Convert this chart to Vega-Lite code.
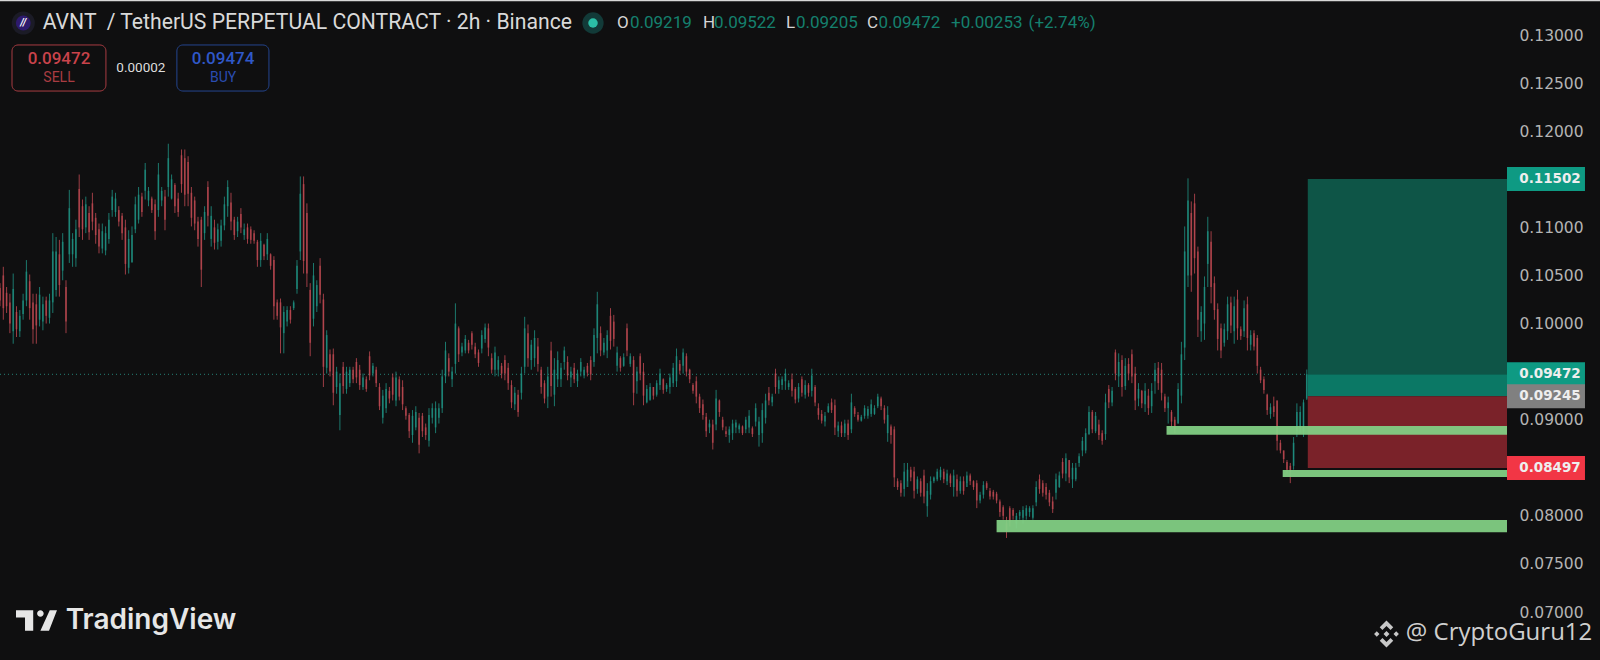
{"$schema":"https://vega.github.io/schema/vega-lite/v6.json","width":1507,"height":660,"autosize":{"type":"none"},"padding":{"left":0,"top":0,"right":93,"bottom":0},"background":"#0f0f10","config":{"view":{"stroke":null}},"resolve":{"scale":{"color":"independent","stroke":"independent"}},
"datasets":{"bars":[
{"t":0,"o":0.1037,"h":0.1042,"l":0.1018,"c":0.1024},{"t":1,"o":0.105,"h":0.1059,"l":0.1004,"c":0.1016},{"t":2,"o":0.1032,"h":0.1038,"l":0.1011,"c":0.1018},{"t":3,"o":0.1022,"h":0.1031,"l":0.099,"c":0.1},{"t":4,"o":0.0992,"h":0.1052,"l":0.0979,"c":0.1036},{"t":5,"o":0.1012,"h":0.1018,"l":0.0986,"c":0.0994},{"t":6,"o":0.0992,"h":0.1014,"l":0.0986,"c":0.1008},{"t":7,"o":0.101,"h":0.1031,"l":0.1004,"c":0.1024},{"t":8,"o":0.1024,"h":0.1066,"l":0.1018,"c":0.1054},{"t":9,"o":0.1044,"h":0.1051,"l":0.1004,"c":0.1016},
{"t":10,"o":0.1022,"h":0.1031,"l":0.0979,"c":0.0994},{"t":11,"o":0.102,"h":0.1031,"l":0.0979,"c":0.0998},{"t":12,"o":0.1004,"h":0.1038,"l":0.0997,"c":0.103},{"t":13,"o":0.1002,"h":0.1028,"l":0.0993,"c":0.102},{"t":14,"o":0.1024,"h":0.1028,"l":0.1,"c":0.1008},{"t":15,"o":0.1006,"h":0.1031,"l":0.1,"c":0.1024},{"t":16,"o":0.1022,"h":0.1094,"l":0.1011,"c":0.1075},{"t":17,"o":0.1035,"h":0.109,"l":0.1028,"c":0.1075},{"t":18,"o":0.1072,"h":0.1087,"l":0.1028,"c":0.104},{"t":19,"o":0.1055,"h":0.1094,"l":0.1045,"c":0.1085},{"t":20,"o":0.1038,"h":0.1045,"l":0.099,"c":0.1002},
{"t":21,"o":0.1072,"h":0.1139,"l":0.1063,"c":0.112},{"t":22,"o":0.1072,"h":0.1094,"l":0.1059,"c":0.1088},{"t":23,"o":0.1068,"h":0.1108,"l":0.1059,"c":0.1098},{"t":24,"o":0.114,"h":0.1155,"l":0.109,"c":0.11},{"t":25,"o":0.1122,"h":0.1129,"l":0.1087,"c":0.1098},{"t":26,"o":0.11,"h":0.1132,"l":0.1094,"c":0.1124},{"t":27,"o":0.1115,"h":0.1122,"l":0.1087,"c":0.1095},{"t":28,"o":0.1125,"h":0.1136,"l":0.1097,"c":0.1106},{"t":29,"o":0.111,"h":0.1115,"l":0.1083,"c":0.1092},{"t":30,"o":0.1098,"h":0.1104,"l":0.1073,"c":0.108},
{"t":31,"o":0.1078,"h":0.1104,"l":0.1073,"c":0.1096},{"t":32,"o":0.1076,"h":0.1101,"l":0.1071,"c":0.1094},{"t":33,"o":0.1088,"h":0.1115,"l":0.1083,"c":0.1108},{"t":34,"o":0.1118,"h":0.1139,"l":0.1111,"c":0.1132},{"t":35,"o":0.1116,"h":0.1136,"l":0.1111,"c":0.113},{"t":36,"o":0.1118,"h":0.1122,"l":0.1101,"c":0.1106},{"t":37,"o":0.1112,"h":0.1115,"l":0.1087,"c":0.1094},{"t":38,"o":0.11,"h":0.1108,"l":0.1051,"c":0.1062},{"t":39,"o":0.1058,"h":0.1097,"l":0.1052,"c":0.1088},{"t":40,"o":0.1064,"h":0.1101,"l":0.1063,"c":0.1092},
{"t":41,"o":0.1098,"h":0.1132,"l":0.1094,"c":0.1124},{"t":42,"o":0.1108,"h":0.1142,"l":0.1104,"c":0.1134},{"t":43,"o":0.1132,"h":0.1136,"l":0.1111,"c":0.1116},{"t":44,"o":0.1138,"h":0.1167,"l":0.1129,"c":0.116},{"t":45,"o":0.1128,"h":0.1142,"l":0.1122,"c":0.1138},{"t":46,"o":0.113,"h":0.1132,"l":0.1115,"c":0.1118},{"t":47,"o":0.1124,"h":0.1129,"l":0.1087,"c":0.1096},{"t":48,"o":0.1118,"h":0.1167,"l":0.1111,"c":0.1155},{"t":49,"o":0.1128,"h":0.1142,"l":0.1122,"c":0.1138},{"t":50,"o":0.1132,"h":0.1139,"l":0.1097,"c":0.1108},
{"t":51,"o":0.1142,"h":0.1187,"l":0.1132,"c":0.1172},{"t":52,"o":0.113,"h":0.1155,"l":0.1129,"c":0.115},{"t":53,"o":0.1144,"h":0.1146,"l":0.1115,"c":0.1122},{"t":54,"o":0.113,"h":0.1136,"l":0.1111,"c":0.1116},{"t":55,"o":0.1175,"h":0.1181,"l":0.1136,"c":0.1145},{"t":56,"o":0.1172,"h":0.1181,"l":0.1122,"c":0.1134},{"t":57,"o":0.1168,"h":0.1174,"l":0.1122,"c":0.1135},{"t":58,"o":0.1136,"h":0.1142,"l":0.1101,"c":0.111},{"t":59,"o":0.1128,"h":0.1132,"l":0.1097,"c":0.1104},{"t":60,"o":0.1106,"h":0.1111,"l":0.108,"c":0.1088},
{"t":61,"o":0.1108,"h":0.1111,"l":0.1038,"c":0.1056},{"t":62,"o":0.1094,"h":0.1122,"l":0.1087,"c":0.1116},{"t":63,"o":0.1142,"h":0.1148,"l":0.1101,"c":0.1112},{"t":64,"o":0.1088,"h":0.1122,"l":0.108,"c":0.1112},{"t":65,"o":0.11,"h":0.1108,"l":0.1077,"c":0.1084},{"t":66,"o":0.1085,"h":0.1104,"l":0.1077,"c":0.1098},{"t":67,"o":0.1086,"h":0.1108,"l":0.108,"c":0.1102},{"t":68,"o":0.1102,"h":0.1132,"l":0.1097,"c":0.1124},{"t":69,"o":0.1122,"h":0.1149,"l":0.1111,"c":0.1142},{"t":70,"o":0.1126,"h":0.1136,"l":0.1097,"c":0.1106},
{"t":71,"o":0.1108,"h":0.1111,"l":0.1087,"c":0.1092},{"t":72,"o":0.1096,"h":0.1111,"l":0.109,"c":0.1106},{"t":73,"o":0.1114,"h":0.112,"l":0.1094,"c":0.11},{"t":74,"o":0.1092,"h":0.1104,"l":0.1087,"c":0.1098},{"t":75,"o":0.11,"h":0.1104,"l":0.1083,"c":0.1088},{"t":76,"o":0.1098,"h":0.1101,"l":0.1083,"c":0.1087},{"t":77,"o":0.1094,"h":0.1097,"l":0.1083,"c":0.1086},{"t":78,"o":0.1085,"h":0.1087,"l":0.1059,"c":0.1066},{"t":79,"o":0.1066,"h":0.1094,"l":0.1059,"c":0.1086},{"t":80,"o":0.1082,"h":0.1083,"l":0.1066,"c":0.107},
{"t":81,"o":0.1072,"h":0.1094,"l":0.1066,"c":0.1088},{"t":82,"o":0.1072,"h":0.1073,"l":0.1056,"c":0.106},{"t":83,"o":0.1066,"h":0.107,"l":0.1004,"c":0.1018},{"t":84,"o":0.1022,"h":0.1025,"l":0.1004,"c":0.1008},{"t":85,"o":0.1022,"h":0.1026,"l":0.0969,"c":0.0996},{"t":86,"o":0.099,"h":0.1018,"l":0.0969,"c":0.1012},{"t":87,"o":0.1002,"h":0.1018,"l":0.0997,"c":0.1014},{"t":88,"o":0.1014,"h":0.1018,"l":0.1,"c":0.1004},{"t":89,"o":0.1016,"h":0.1024,"l":0.1014,"c":0.1022},{"t":90,"o":0.1036,"h":0.1066,"l":0.1031,"c":0.106},
{"t":91,"o":0.1075,"h":0.1153,"l":0.1066,"c":0.1135},{"t":92,"o":0.1145,"h":0.1153,"l":0.1052,"c":0.1065},{"t":93,"o":0.1115,"h":0.1125,"l":0.1038,"c":0.1052},{"t":94,"o":0.1035,"h":0.1042,"l":0.0966,"c":0.098},{"t":95,"o":0.1005,"h":0.1063,"l":0.0997,"c":0.105},{"t":96,"o":0.1018,"h":0.1045,"l":0.1012,"c":0.104},{"t":97,"o":0.106,"h":0.1068,"l":0.1021,"c":0.103},{"t":98,"o":0.1025,"h":0.1031,"l":0.0934,"c":0.0955},{"t":99,"o":0.0954,"h":0.0993,"l":0.0948,"c":0.0988},{"t":100,"o":0.0968,"h":0.0973,"l":0.0945,"c":0.095},
{"t":101,"o":0.0968,"h":0.0974,"l":0.0915,"c":0.0928},{"t":102,"o":0.0934,"h":0.0955,"l":0.0927,"c":0.095},{"t":103,"o":0.0905,"h":0.0948,"l":0.0889,"c":0.0938},{"t":104,"o":0.0955,"h":0.096,"l":0.0927,"c":0.0935},{"t":105,"o":0.0932,"h":0.0955,"l":0.0927,"c":0.095},{"t":106,"o":0.0938,"h":0.0955,"l":0.0934,"c":0.0952},{"t":107,"o":0.0952,"h":0.0955,"l":0.0938,"c":0.0942},{"t":108,"o":0.096,"h":0.0964,"l":0.0938,"c":0.0944},{"t":109,"o":0.0952,"h":0.0957,"l":0.0931,"c":0.0936},{"t":110,"o":0.0934,"h":0.0948,"l":0.0931,"c":0.0944},
{"t":111,"o":0.0942,"h":0.0945,"l":0.0929,"c":0.0932},{"t":112,"o":0.0966,"h":0.0971,"l":0.0941,"c":0.0946},{"t":113,"o":0.0948,"h":0.0959,"l":0.0945,"c":0.0956},{"t":114,"o":0.0952,"h":0.0955,"l":0.0934,"c":0.0938},{"t":115,"o":0.0934,"h":0.0938,"l":0.091,"c":0.0914},{"t":116,"o":0.0902,"h":0.0931,"l":0.0896,"c":0.0925},{"t":117,"o":0.0912,"h":0.0938,"l":0.0907,"c":0.0932},{"t":118,"o":0.093,"h":0.0934,"l":0.0917,"c":0.0922},{"t":119,"o":0.0944,"h":0.0948,"l":0.092,"c":0.0926},{"t":120,"o":0.092,"h":0.095,"l":0.0914,"c":0.0944},
{"t":121,"o":0.0942,"h":0.0945,"l":0.092,"c":0.0924},{"t":122,"o":0.0934,"h":0.0941,"l":0.091,"c":0.0916},{"t":123,"o":0.0912,"h":0.0914,"l":0.09,"c":0.0904},{"t":124,"o":0.0905,"h":0.0907,"l":0.0881,"c":0.0888},{"t":125,"o":0.0884,"h":0.091,"l":0.0876,"c":0.0904},{"t":126,"o":0.0892,"h":0.0914,"l":0.0889,"c":0.0908},{"t":127,"o":0.0902,"h":0.0907,"l":0.0865,"c":0.0874},{"t":128,"o":0.0904,"h":0.0907,"l":0.0882,"c":0.0888},{"t":129,"o":0.0892,"h":0.0896,"l":0.0879,"c":0.0884},{"t":130,"o":0.0878,"h":0.0912,"l":0.0872,"c":0.0905},
{"t":131,"o":0.0902,"h":0.0917,"l":0.0896,"c":0.0912},{"t":132,"o":0.0892,"h":0.0919,"l":0.0886,"c":0.0912},{"t":133,"o":0.0902,"h":0.0917,"l":0.0896,"c":0.0912},{"t":134,"o":0.0912,"h":0.0952,"l":0.0907,"c":0.0945},{"t":135,"o":0.0945,"h":0.0981,"l":0.0938,"c":0.0972},{"t":136,"o":0.0964,"h":0.0969,"l":0.0945,"c":0.095},{"t":137,"o":0.0942,"h":0.0955,"l":0.0934,"c":0.095},{"t":138,"o":0.0958,"h":0.1021,"l":0.0948,"c":0.1},{"t":139,"o":0.0995,"h":0.0997,"l":0.096,"c":0.0968},{"t":140,"o":0.097,"h":0.098,"l":0.0966,"c":0.0976},
{"t":141,"o":0.0972,"h":0.0988,"l":0.0969,"c":0.0984},{"t":142,"o":0.098,"h":0.0983,"l":0.0969,"c":0.0972},{"t":143,"o":0.099,"h":0.0992,"l":0.0973,"c":0.0978},{"t":144,"o":0.0976,"h":0.098,"l":0.0964,"c":0.0968},{"t":145,"o":0.097,"h":0.0973,"l":0.0955,"c":0.0959},{"t":146,"o":0.0974,"h":0.0993,"l":0.0969,"c":0.0988},{"t":147,"o":0.0984,"h":0.1,"l":0.098,"c":0.0996},{"t":148,"o":0.0995,"h":0.1,"l":0.0966,"c":0.0975},{"t":149,"o":0.0964,"h":0.0969,"l":0.0948,"c":0.0952},{"t":150,"o":0.0952,"h":0.0976,"l":0.0945,"c":0.097},
{"t":151,"o":0.0952,"h":0.0966,"l":0.0945,"c":0.0962},{"t":152,"o":0.0956,"h":0.0959,"l":0.0943,"c":0.0948},{"t":153,"o":0.0962,"h":0.0967,"l":0.0941,"c":0.0948},{"t":154,"o":0.0954,"h":0.0959,"l":0.0931,"c":0.0938},{"t":155,"o":0.0936,"h":0.0941,"l":0.0912,"c":0.0918},{"t":156,"o":0.0916,"h":0.0934,"l":0.091,"c":0.0928},{"t":157,"o":0.0926,"h":0.0931,"l":0.0903,"c":0.0908},{"t":158,"o":0.0928,"h":0.0955,"l":0.0921,"c":0.0948},{"t":159,"o":0.0955,"h":0.1007,"l":0.0948,"c":0.0995},{"t":160,"o":0.099,"h":0.0999,"l":0.0955,"c":0.0964},
{"t":161,"o":0.0962,"h":0.0983,"l":0.0952,"c":0.0978},{"t":162,"o":0.0964,"h":0.0993,"l":0.0955,"c":0.0985},{"t":163,"o":0.0976,"h":0.0985,"l":0.095,"c":0.0958},{"t":164,"o":0.0952,"h":0.0955,"l":0.0927,"c":0.0934},{"t":165,"o":0.0938,"h":0.0941,"l":0.0917,"c":0.0922},{"t":166,"o":0.0924,"h":0.0955,"l":0.0912,"c":0.0945},{"t":167,"o":0.0972,"h":0.0981,"l":0.0924,"c":0.0935},{"t":168,"o":0.0926,"h":0.0964,"l":0.0914,"c":0.0952},{"t":169,"o":0.0942,"h":0.0971,"l":0.0934,"c":0.0962},{"t":170,"o":0.0942,"h":0.0959,"l":0.0934,"c":0.0954},
{"t":171,"o":0.096,"h":0.0976,"l":0.0952,"c":0.0972},{"t":172,"o":0.096,"h":0.0966,"l":0.0941,"c":0.0946},{"t":173,"o":0.0944,"h":0.0955,"l":0.0934,"c":0.095},{"t":174,"o":0.0954,"h":0.0959,"l":0.0938,"c":0.0942},{"t":175,"o":0.094,"h":0.0952,"l":0.0934,"c":0.0948},{"t":176,"o":0.095,"h":0.0964,"l":0.0945,"c":0.096},{"t":177,"o":0.0946,"h":0.0955,"l":0.0943,"c":0.0952},{"t":178,"o":0.0956,"h":0.0959,"l":0.0945,"c":0.0949},{"t":179,"o":0.0962,"h":0.0966,"l":0.0941,"c":0.0947},{"t":180,"o":0.096,"h":0.0995,"l":0.0955,"c":0.0988},
{"t":181,"o":0.0985,"h":0.1033,"l":0.0969,"c":0.102},{"t":182,"o":0.099,"h":0.0997,"l":0.0966,"c":0.0972},{"t":183,"o":0.097,"h":0.0985,"l":0.0967,"c":0.098},{"t":184,"o":0.0972,"h":0.0993,"l":0.0964,"c":0.0988},{"t":185,"o":0.1008,"h":0.1016,"l":0.0973,"c":0.0982},{"t":186,"o":0.1002,"h":0.1009,"l":0.0976,"c":0.0984},{"t":187,"o":0.0956,"h":0.0976,"l":0.095,"c":0.097},{"t":188,"o":0.0964,"h":0.0966,"l":0.095,"c":0.0954},{"t":189,"o":0.0956,"h":0.0969,"l":0.0955,"c":0.0965},{"t":190,"o":0.0995,"h":0.1,"l":0.0966,"c":0.0972},
{"t":191,"o":0.0958,"h":0.0969,"l":0.0955,"c":0.0966},{"t":192,"o":0.0962,"h":0.0966,"l":0.0915,"c":0.0928},{"t":193,"o":0.094,"h":0.0955,"l":0.0927,"c":0.095},{"t":194,"o":0.0966,"h":0.0969,"l":0.0941,"c":0.0948},{"t":195,"o":0.095,"h":0.0959,"l":0.0915,"c":0.0925},{"t":196,"o":0.0918,"h":0.0936,"l":0.0917,"c":0.0932},{"t":197,"o":0.092,"h":0.0938,"l":0.0921,"c":0.0934},{"t":198,"o":0.0934,"h":0.0934,"l":0.0921,"c":0.0925},{"t":199,"o":0.0926,"h":0.0941,"l":0.0924,"c":0.0938},{"t":200,"o":0.0936,"h":0.0953,"l":0.0931,"c":0.0948},
{"t":201,"o":0.0942,"h":0.0943,"l":0.0927,"c":0.0931},{"t":202,"o":0.0932,"h":0.0938,"l":0.0929,"c":0.0936},{"t":203,"o":0.0934,"h":0.0948,"l":0.0927,"c":0.0944},{"t":204,"o":0.0938,"h":0.0959,"l":0.0934,"c":0.0954},{"t":205,"o":0.094,"h":0.0974,"l":0.0934,"c":0.0966},{"t":206,"o":0.0958,"h":0.0962,"l":0.0947,"c":0.0951},{"t":207,"o":0.0956,"h":0.0974,"l":0.0948,"c":0.097},{"t":208,"o":0.0966,"h":0.0969,"l":0.0945,"c":0.095},{"t":209,"o":0.0952,"h":0.0953,"l":0.0938,"c":0.0942},{"t":210,"o":0.0936,"h":0.0938,"l":0.0927,"c":0.093},
{"t":211,"o":0.094,"h":0.0945,"l":0.0917,"c":0.0924},{"t":212,"o":0.0924,"h":0.0927,"l":0.0907,"c":0.0912},{"t":213,"o":0.0916,"h":0.0921,"l":0.09,"c":0.0905},{"t":214,"o":0.0903,"h":0.0907,"l":0.0882,"c":0.0888},{"t":215,"o":0.0892,"h":0.09,"l":0.0886,"c":0.0896},{"t":216,"o":0.0895,"h":0.09,"l":0.0869,"c":0.0876},{"t":217,"o":0.0895,"h":0.0931,"l":0.0889,"c":0.0922},{"t":218,"o":0.092,"h":0.0921,"l":0.0903,"c":0.0908},{"t":219,"o":0.09,"h":0.0903,"l":0.0889,"c":0.0892},{"t":220,"o":0.0888,"h":0.0893,"l":0.0882,"c":0.0885},
{"t":221,"o":0.0884,"h":0.0893,"l":0.0876,"c":0.089},{"t":222,"o":0.0886,"h":0.09,"l":0.0879,"c":0.0896},{"t":223,"o":0.0892,"h":0.09,"l":0.0886,"c":0.0897},{"t":224,"o":0.089,"h":0.0896,"l":0.0886,"c":0.0894},{"t":225,"o":0.0893,"h":0.0894,"l":0.0884,"c":0.0886},{"t":226,"o":0.089,"h":0.0903,"l":0.0886,"c":0.09},{"t":227,"o":0.0892,"h":0.091,"l":0.0886,"c":0.0904},{"t":228,"o":0.0891,"h":0.0893,"l":0.0882,"c":0.0885},{"t":229,"o":0.0898,"h":0.0917,"l":0.0893,"c":0.0912},{"t":230,"o":0.0884,"h":0.0903,"l":0.0872,"c":0.0898},
{"t":231,"o":0.0886,"h":0.0917,"l":0.0876,"c":0.091},{"t":232,"o":0.0902,"h":0.0927,"l":0.0896,"c":0.092},{"t":233,"o":0.0928,"h":0.0934,"l":0.0915,"c":0.092},{"t":234,"o":0.0918,"h":0.0927,"l":0.0914,"c":0.0924},{"t":235,"o":0.0948,"h":0.0953,"l":0.0927,"c":0.0934},{"t":236,"o":0.0932,"h":0.0945,"l":0.0927,"c":0.0941},{"t":237,"o":0.0936,"h":0.0945,"l":0.0931,"c":0.0942},{"t":238,"o":0.094,"h":0.0953,"l":0.0931,"c":0.0948},{"t":239,"o":0.0934,"h":0.0941,"l":0.0931,"c":0.0938},{"t":240,"o":0.0942,"h":0.0948,"l":0.0924,"c":0.093},
{"t":241,"o":0.0932,"h":0.0934,"l":0.0917,"c":0.0921},{"t":242,"o":0.0922,"h":0.0938,"l":0.0918,"c":0.0934},{"t":243,"o":0.0942,"h":0.0945,"l":0.0924,"c":0.0928},{"t":244,"o":0.0926,"h":0.0941,"l":0.0922,"c":0.0936},{"t":245,"o":0.0936,"h":0.0938,"l":0.0924,"c":0.0928},{"t":246,"o":0.093,"h":0.0953,"l":0.0924,"c":0.0946},{"t":247,"o":0.0934,"h":0.0936,"l":0.0914,"c":0.0918},{"t":248,"o":0.0912,"h":0.0917,"l":0.09,"c":0.0905},{"t":249,"o":0.0906,"h":0.091,"l":0.0896,"c":0.0899},{"t":250,"o":0.0898,"h":0.0908,"l":0.0893,"c":0.0904},
{"t":251,"o":0.0908,"h":0.0917,"l":0.0907,"c":0.0914},{"t":252,"o":0.0918,"h":0.0922,"l":0.0907,"c":0.091},{"t":253,"o":0.0915,"h":0.0921,"l":0.0884,"c":0.0892},{"t":254,"o":0.0888,"h":0.0898,"l":0.0882,"c":0.0894},{"t":255,"o":0.0894,"h":0.0898,"l":0.0882,"c":0.0886},{"t":256,"o":0.0886,"h":0.09,"l":0.0882,"c":0.0896},{"t":257,"o":0.0896,"h":0.09,"l":0.0879,"c":0.0884},{"t":258,"o":0.089,"h":0.0927,"l":0.0886,"c":0.0918},{"t":259,"o":0.0912,"h":0.0914,"l":0.0903,"c":0.0906},{"t":260,"o":0.0905,"h":0.0908,"l":0.0898,"c":0.09},
{"t":261,"o":0.0899,"h":0.0905,"l":0.0898,"c":0.0903},{"t":262,"o":0.0904,"h":0.0915,"l":0.0901,"c":0.0912},{"t":263,"o":0.0904,"h":0.0914,"l":0.0901,"c":0.0911},{"t":264,"o":0.0906,"h":0.0921,"l":0.0903,"c":0.0916},{"t":265,"o":0.0906,"h":0.0915,"l":0.0905,"c":0.0912},{"t":266,"o":0.0914,"h":0.0927,"l":0.0912,"c":0.0924},{"t":267,"o":0.0922,"h":0.0924,"l":0.091,"c":0.0914},{"t":268,"o":0.0912,"h":0.0915,"l":0.0896,"c":0.09},{"t":269,"o":0.0886,"h":0.0914,"l":0.0877,"c":0.0905},{"t":270,"o":0.0893,"h":0.0895,"l":0.0875,"c":0.0884},
{"t":271,"o":0.089,"h":0.0893,"l":0.083,"c":0.084},{"t":272,"o":0.0836,"h":0.0839,"l":0.0827,"c":0.083},{"t":273,"o":0.0834,"h":0.0837,"l":0.082,"c":0.0824},{"t":274,"o":0.0828,"h":0.0855,"l":0.082,"c":0.0846},{"t":275,"o":0.083,"h":0.0855,"l":0.0836,"c":0.0848},{"t":276,"o":0.0848,"h":0.0851,"l":0.0836,"c":0.084},{"t":277,"o":0.0846,"h":0.0851,"l":0.0818,"c":0.0826},{"t":278,"o":0.0828,"h":0.0841,"l":0.0823,"c":0.0838},{"t":279,"o":0.0836,"h":0.0839,"l":0.082,"c":0.0824},{"t":280,"o":0.0842,"h":0.0848,"l":0.0813,"c":0.082},
{"t":281,"o":0.081,"h":0.0834,"l":0.0799,"c":0.0826},{"t":282,"o":0.0822,"h":0.0841,"l":0.0817,"c":0.0836},{"t":283,"o":0.0836,"h":0.0841,"l":0.0834,"c":0.084},{"t":284,"o":0.0838,"h":0.0849,"l":0.0836,"c":0.0846},{"t":285,"o":0.084,"h":0.0851,"l":0.0837,"c":0.0848},{"t":286,"o":0.0846,"h":0.0849,"l":0.0834,"c":0.0838},{"t":287,"o":0.0836,"h":0.0848,"l":0.0832,"c":0.0844},{"t":288,"o":0.0842,"h":0.0844,"l":0.083,"c":0.0834},{"t":289,"o":0.083,"h":0.0848,"l":0.082,"c":0.0842},{"t":290,"o":0.0838,"h":0.0843,"l":0.082,"c":0.0826},
{"t":291,"o":0.0826,"h":0.0841,"l":0.0823,"c":0.0836},{"t":292,"o":0.0836,"h":0.0841,"l":0.0822,"c":0.0826},{"t":293,"o":0.083,"h":0.0846,"l":0.0834,"c":0.0842},{"t":294,"o":0.0842,"h":0.0844,"l":0.0832,"c":0.0836},{"t":295,"o":0.0836,"h":0.0837,"l":0.0827,"c":0.083},{"t":296,"o":0.0834,"h":0.0837,"l":0.0808,"c":0.0816},{"t":297,"o":0.0816,"h":0.0825,"l":0.0813,"c":0.0822},{"t":298,"o":0.0822,"h":0.0836,"l":0.0818,"c":0.0832},{"t":299,"o":0.0834,"h":0.0836,"l":0.0827,"c":0.0829},{"t":300,"o":0.0826,"h":0.0829,"l":0.0817,"c":0.082},
{"t":301,"o":0.0825,"h":0.0827,"l":0.0817,"c":0.082},{"t":302,"o":0.0823,"h":0.0825,"l":0.0813,"c":0.0816},{"t":303,"o":0.0815,"h":0.0817,"l":0.0799,"c":0.0804},{"t":304,"o":0.0809,"h":0.0811,"l":0.0796,"c":0.08},{"t":305,"o":0.0792,"h":0.0799,"l":0.0777,"c":0.0785},{"t":306,"o":0.0808,"h":0.081,"l":0.0789,"c":0.0794},{"t":307,"o":0.0806,"h":0.0808,"l":0.0796,"c":0.08},{"t":308,"o":0.0792,"h":0.0803,"l":0.0787,"c":0.08},{"t":309,"o":0.08,"h":0.0806,"l":0.0796,"c":0.0804},{"t":310,"o":0.0798,"h":0.081,"l":0.0792,"c":0.0806},
{"t":311,"o":0.08,"h":0.0811,"l":0.0796,"c":0.0808},{"t":312,"o":0.0804,"h":0.081,"l":0.0799,"c":0.0808},{"t":313,"o":0.0798,"h":0.0811,"l":0.0796,"c":0.0808},{"t":314,"o":0.0814,"h":0.0836,"l":0.081,"c":0.083},{"t":315,"o":0.0838,"h":0.0843,"l":0.0823,"c":0.0828},{"t":316,"o":0.0834,"h":0.0837,"l":0.082,"c":0.0824},{"t":317,"o":0.083,"h":0.0834,"l":0.0817,"c":0.0822},{"t":318,"o":0.0824,"h":0.0827,"l":0.081,"c":0.0814},{"t":319,"o":0.0815,"h":0.082,"l":0.0803,"c":0.0807},{"t":320,"o":0.0824,"h":0.0844,"l":0.0817,"c":0.0838},
{"t":321,"o":0.083,"h":0.0846,"l":0.0829,"c":0.0842},{"t":322,"o":0.0856,"h":0.086,"l":0.0839,"c":0.0844},{"t":323,"o":0.0844,"h":0.0865,"l":0.0836,"c":0.086},{"t":324,"o":0.0858,"h":0.0858,"l":0.0834,"c":0.084},{"t":325,"o":0.0838,"h":0.0855,"l":0.0829,"c":0.085},{"t":326,"o":0.0838,"h":0.0855,"l":0.0836,"c":0.085},{"t":327,"o":0.0855,"h":0.0865,"l":0.0851,"c":0.0862},{"t":328,"o":0.0868,"h":0.0882,"l":0.0862,"c":0.0878},{"t":329,"o":0.0868,"h":0.0891,"l":0.0865,"c":0.0886},{"t":330,"o":0.0885,"h":0.0914,"l":0.0884,"c":0.0908},
{"t":331,"o":0.0908,"h":0.091,"l":0.0886,"c":0.089},{"t":332,"o":0.0888,"h":0.0908,"l":0.0886,"c":0.0904},{"t":333,"o":0.0895,"h":0.09,"l":0.0879,"c":0.0884},{"t":334,"o":0.0886,"h":0.0889,"l":0.0874,"c":0.0878},{"t":335,"o":0.0885,"h":0.0927,"l":0.0879,"c":0.0918},{"t":336,"o":0.0932,"h":0.0936,"l":0.0912,"c":0.0918},{"t":337,"o":0.0918,"h":0.0934,"l":0.0914,"c":0.093},{"t":338,"o":0.097,"h":0.0973,"l":0.0941,"c":0.0948},{"t":339,"o":0.0945,"h":0.0969,"l":0.0934,"c":0.096},{"t":340,"o":0.0962,"h":0.0967,"l":0.0924,"c":0.0934},
{"t":341,"o":0.0935,"h":0.0964,"l":0.0931,"c":0.0956},{"t":342,"o":0.0958,"h":0.0964,"l":0.0941,"c":0.0948},{"t":343,"o":0.0968,"h":0.0973,"l":0.0938,"c":0.0945},{"t":344,"o":0.0948,"h":0.0955,"l":0.091,"c":0.092},{"t":345,"o":0.0922,"h":0.0938,"l":0.0914,"c":0.0932},{"t":346,"o":0.093,"h":0.0931,"l":0.0912,"c":0.0917},{"t":347,"o":0.0916,"h":0.0938,"l":0.0908,"c":0.093},{"t":348,"o":0.0925,"h":0.0932,"l":0.0905,"c":0.0912},{"t":349,"o":0.0914,"h":0.0938,"l":0.0907,"c":0.093},{"t":350,"o":0.094,"h":0.0959,"l":0.0927,"c":0.0952},
{"t":351,"o":0.0954,"h":0.096,"l":0.0931,"c":0.0938},{"t":352,"o":0.0952,"h":0.0959,"l":0.092,"c":0.0928},{"t":353,"o":0.0924,"h":0.0927,"l":0.0908,"c":0.0912},{"t":354,"o":0.0912,"h":0.0924,"l":0.0896,"c":0.0918},{"t":355,"o":0.0908,"h":0.091,"l":0.0893,"c":0.0898},{"t":356,"o":0.09,"h":0.0903,"l":0.0886,"c":0.089},{"t":357,"o":0.0896,"h":0.0938,"l":0.0896,"c":0.0932},{"t":358,"o":0.0925,"h":0.0981,"l":0.0917,"c":0.0968},{"t":359,"o":0.0975,"h":0.1101,"l":0.0962,"c":0.1075},{"t":360,"o":0.105,"h":0.1151,"l":0.1038,"c":0.1128},
{"t":361,"o":0.1115,"h":0.1127,"l":0.1033,"c":0.105},{"t":362,"o":0.1125,"h":0.1135,"l":0.1052,"c":0.1068},{"t":363,"o":0.1075,"h":0.108,"l":0.0986,"c":0.1004},{"t":364,"o":0.0992,"h":0.1018,"l":0.0981,"c":0.1012},{"t":365,"o":0.1,"h":0.1049,"l":0.0983,"c":0.1038},{"t":366,"o":0.1062,"h":0.1111,"l":0.1038,"c":0.1096},{"t":367,"o":0.1085,"h":0.1096,"l":0.1021,"c":0.1038},{"t":368,"o":0.1042,"h":0.1049,"l":0.1004,"c":0.1014},{"t":369,"o":0.1015,"h":0.1021,"l":0.0972,"c":0.0984},{"t":370,"o":0.0995,"h":0.1,"l":0.0964,"c":0.0972},
{"t":371,"o":0.098,"h":0.1,"l":0.0976,"c":0.0994},{"t":372,"o":0.0992,"h":0.1028,"l":0.0983,"c":0.102},{"t":373,"o":0.1022,"h":0.1028,"l":0.099,"c":0.0998},{"t":374,"o":0.0992,"h":0.1028,"l":0.0979,"c":0.1018},{"t":375,"o":0.1025,"h":0.1035,"l":0.0983,"c":0.0995},{"t":376,"o":0.0994,"h":0.0997,"l":0.0983,"c":0.0987},{"t":377,"o":0.0992,"h":0.1024,"l":0.0986,"c":0.1016},{"t":378,"o":0.102,"h":0.1028,"l":0.0972,"c":0.0985},{"t":379,"o":0.0978,"h":0.0993,"l":0.0972,"c":0.0988},{"t":380,"o":0.099,"h":0.0993,"l":0.0972,"c":0.0976},
{"t":381,"o":0.0985,"h":0.0988,"l":0.0948,"c":0.0956},{"t":382,"o":0.0952,"h":0.0955,"l":0.0938,"c":0.0941},{"t":383,"o":0.0942,"h":0.0945,"l":0.0927,"c":0.0931},{"t":384,"o":0.0926,"h":0.0927,"l":0.0905,"c":0.091},{"t":385,"o":0.0906,"h":0.0917,"l":0.0901,"c":0.0913},{"t":386,"o":0.0914,"h":0.0924,"l":0.0903,"c":0.0908},{"t":387,"o":0.092,"h":0.092,"l":0.0868,"c":0.0878},{"t":388,"o":0.0876,"h":0.0879,"l":0.0865,"c":0.0868},{"t":389,"o":0.0868,"h":0.0868,"l":0.0855,"c":0.0859},{"t":390,"o":0.0856,"h":0.0858,"l":0.0844,"c":0.0848},
{"t":391,"o":0.0852,"h":0.0855,"l":0.0834,"c":0.0846},{"t":392,"o":0.0852,"h":0.0882,"l":0.0848,"c":0.0876},{"t":393,"o":0.0888,"h":0.0917,"l":0.0882,"c":0.0908},{"t":394,"o":0.0892,"h":0.0914,"l":0.0886,"c":0.0908},{"t":395,"o":0.0888,"h":0.0921,"l":0.0882,"c":0.0918},{"t":396,"o":0.09219,"h":0.09522,"l":0.09205,"c":0.09472}
],
"levels":[{"name":"0.11502","price":0.11502,"tone":"up"},{"name":"0.09472","price":0.09472,"tone":"up"},{"name":"0.09245","price":0.09245,"tone":"mid"},{"name":"0.08497","price":0.08497,"tone":"down"}],
"zones":[{"from":0.08934,"to":0.08844,"start":353.5},{"from":0.08477,"to":0.08404,"start":388.7},{"from":0.07957,"to":0.07829,"start":302}],
"ohlcKeys":[{"s":"O","bar":187},{"s":"H","bar":213},{"s":"L","bar":238.2},{"s":"C","bar":262.7}],
"ohlcVals":[{"s":"0.09219","bar":190.9},{"s":"0.09522","bar":216.4},{"s":"0.09205","bar":241.2},{"s":"0.09472","bar":266.2},{"s":"+0.00253","bar":288.2},{"s":"(+2.74%)","bar":311.7}]},
"layer":[
{"data":{"values":[{"price":0.09472}]},"mark":{"type":"rule","color":"#2a9d8f","strokeDash":[1,3],"strokeWidth":1,"opacity":0.8},"encoding":{"x":{"datum":0,"type":"quantitative","scale":{"domain":[0,456.67],"nice":false,"zero":false,"padding":0},"axis":null},"x2":{"datum":396},"y":{"field":"price","type":"quantitative","scale":{"domain":[0.065008,0.133648],"nice":false,"zero":false,"padding":0},"axis":{"orient":"right","title":null,"grid":false,"domain":false,"ticks":false,"values":[0.07,0.075,0.08,0.085,0.09,0.095,0.1,0.105,0.11,0.115,0.12,0.125,0.13],"format":".5f","labelFont":"DejaVu Sans","labelFontSize":15.5,"labelColor":"#b4b4b4","labelPadding":12,"labelAlign":"left"}}}},
{"data":{"name":"bars"},"mark":{"type":"rule","strokeWidth":1,"opacity":0.8},"encoding":{"x":{"field":"t","type":"quantitative"},"y":{"field":"l","type":"quantitative"},"y2":{"field":"h"},"color":{"condition":{"test":"datum.c>=datum.o","value":"#1f9484"},"value":"#c24a52"}}},
{"data":{"name":"bars"},"mark":{"type":"rule","strokeWidth":1.7,"opacity":0.7},"encoding":{"x":{"field":"t","type":"quantitative"},"y":{"field":"o","type":"quantitative"},"y2":{"field":"c"},"color":{"condition":{"test":"datum.c>=datum.o","value":"#1f9484"},"value":"#c24a52"}}},
{"data":{"values":[{"a":0.09472,"b":0.11502,"k":"target"},{"a":0.09245,"b":0.09472,"k":"open"},{"a":0.08497,"b":0.09245,"k":"stop"}]},"mark":{"type":"rect"},"encoding":{"x":{"datum":396.3,"type":"quantitative"},"x2":{"datum":456.67},"y":{"field":"a","type":"quantitative"},"y2":{"field":"b"},"color":{"field":"k","type":"nominal","legend":null,"scale":{"domain":["target","open","stop"],"range":["#0e5547","#0b7865","#7a2229"]}}}},
{"data":{"name":"zones"},"mark":{"type":"rect","color":"#82cf84","opacity":0.95},"encoding":{"x":{"field":"start","type":"quantitative"},"x2":{"datum":456.67},"y":{"field":"from","type":"quantitative"},"y2":{"field":"to"}}},
{"data":{"name":"levels"},"mark":{"type":"bar","size":24,"orient":"horizontal"},"encoding":{"x":{"datum":456.67,"type":"quantitative"},"x2":{"datum":480.3},"y":{"field":"price","type":"quantitative"},"color":{"field":"tone","type":"nominal","legend":null,"scale":{"domain":["up","mid","down"],"range":["#0e9a83","#808080","#f23645"]}}}},
{"data":{"name":"levels"},"mark":{"type":"text","font":"DejaVu Sans","fontSize":13.5,"fontWeight":"bold","color":"#eeeeee","align":"center","baseline":"middle"},"encoding":{"x":{"datum":469.7,"type":"quantitative"},"y":{"field":"price","type":"quantitative"},"text":{"field":"name"}}},
{"mark":{"type":"point","shape":"circle","filled":true,"size":530,"color":"#1b1b26","opacity":1},"data":{"values":[{"p":0.131256}]},"encoding":{"x":{"datum":7.06,"type":"quantitative"},"y":{"field":"p","type":"quantitative"}}},
{"mark":{"type":"point","shape":"circle","filled":true,"size":220,"color":"#2e1a6e","opacity":1},"data":{"values":[{"p":0.131256}]},"encoding":{"x":{"datum":7.06,"type":"quantitative"},"y":{"field":"p","type":"quantitative"}}},
{"mark":{"type":"text","text":"//","font":"Roboto","fontSize":10,"fontWeight":"bold","fontStyle":"italic","color":"#ffffff","align":"center","baseline":"middle"},"data":{"values":[{"p":0.131256}]},"encoding":{"x":{"datum":7.06,"type":"quantitative"},"y":{"field":"p","type":"quantitative"}}},
{"mark":{"type":"text","font":"Roboto","fontSize":21.2,"color":"#d9d9d9","align":"left","baseline":"middle"},"data":{"values":[{"p":0.131256,"s":"AVNT \u00a0/ TetherUS PERPETUAL CONTRACT · 2h · Binance"}]},"encoding":{"x":{"datum":12.94,"type":"quantitative"},"y":{"field":"p","type":"quantitative"},"text":{"field":"s"}}},
{"mark":{"type":"point","shape":"circle","filled":true,"size":452,"color":"#123a38","opacity":1},"data":{"values":[{"p":0.131256}]},"encoding":{"x":{"datum":179.7,"type":"quantitative"},"y":{"field":"p","type":"quantitative"}}},
{"mark":{"type":"point","shape":"circle","filled":true,"size":90,"color":"#2bbfa6","opacity":1},"data":{"values":[{"p":0.131256}]},"encoding":{"x":{"datum":179.7,"type":"quantitative"},"y":{"field":"p","type":"quantitative"}}},
{"data":{"name":"ohlcKeys"},"mark":{"type":"text","font":"Roboto","fontSize":17,"color":"#d5d5d5","align":"left","baseline":"middle"},"encoding":{"x":{"field":"bar","type":"quantitative"},"y":{"datum":0.131256,"type":"quantitative"},"text":{"field":"s"}}},
{"data":{"name":"ohlcVals"},"mark":{"type":"text","font":"Roboto","fontSize":17,"color":"#15806e","align":"left","baseline":"middle"},"encoding":{"x":{"field":"bar","type":"quantitative"},"y":{"datum":0.131256,"type":"quantitative"},"text":{"field":"s"}}},
{"data":{"values":[{"a":3.64,"b":32.1,"k":"sell"},{"a":53.6,"b":81.5,"k":"buy"}]},"mark":{"type":"rect","filled":false,"cornerRadius":6,"strokeWidth":1},"encoding":{"x":{"field":"a","type":"quantitative"},"x2":{"field":"b"},"y":{"datum":0.12897,"type":"quantitative"},"y2":{"datum":0.12418},"stroke":{"field":"k","type":"nominal","legend":null,"scale":{"domain":["sell","buy"],"range":["#a83c42","#24458f"]}}}},
{"data":{"values":[{"s":"0.09472","bar":17.88,"p":0.12754,"k":"sell"},{"s":"0.09474","bar":67.6,"p":0.12754,"k":"buy"}]},"mark":{"type":"text","font":"Roboto","fontSize":17,"fontWeight":500,"align":"center","baseline":"middle"},"encoding":{"x":{"field":"bar","type":"quantitative"},"y":{"field":"p","type":"quantitative"},"text":{"field":"s"},"color":{"field":"k","type":"nominal","legend":null,"scale":{"domain":["sell","buy"],"range":["#c9434b","#2f58c8"]}}}},
{"data":{"values":[{"s":"SELL","bar":17.88,"p":0.12554,"k":"sell"},{"s":"BUY","bar":67.6,"p":0.12554,"k":"buy"}]},"mark":{"type":"text","font":"Roboto","fontSize":14,"align":"center","baseline":"middle"},"encoding":{"x":{"field":"bar","type":"quantitative"},"y":{"field":"p","type":"quantitative"},"text":{"field":"s"},"color":{"field":"k","type":"nominal","legend":null,"scale":{"domain":["sell","buy"],"range":["#a83c42","#2a4cb0"]}}}},
{"data":{"values":[{"s":"0.00002","bar":42.7,"p":0.12658}]},"mark":{"type":"text","font":"Roboto","fontSize":13.5,"color":"#dddddd","align":"center","baseline":"middle"},"encoding":{"x":{"field":"bar","type":"quantitative"},"y":{"field":"p","type":"quantitative"},"text":{"field":"s"}}},
{"data":{"values":[{"p":0.06912}]},"mark":{"type":"point","filled":true,"opacity":1,"size":1681,"color":"#e6e6e6","shape":"M-1,-0.5 L-0.16,-0.5 L-0.16,0.5 L-0.56,0.5 L-0.56,-0.145 L-1,-0.145 Z M0.03,-0.34 A0.16,0.16 0 1 1 0.35,-0.34 A0.16,0.16 0 1 1 0.03,-0.34 Z M0.645,-0.5 L1,-0.5 L0.61,0.5 L0.19,0.5 Z"},"encoding":{"x":{"datum":11.06,"type":"quantitative"},"y":{"field":"p","type":"quantitative"}}},
{"data":{"values":[{"p":0.06906,"s":"TradingView"}]},"mark":{"type":"text","font":"Inter","fontSize":28,"fontWeight":600,"color":"#e6e6e6","align":"left","baseline":"middle"},"encoding":{"x":{"datum":19.9,"type":"quantitative"},"y":{"field":"p","type":"quantitative"},"text":{"field":"s"}}},
{"data":{"values":[{"p":0.06771}]},"mark":{"type":"point","filled":true,"opacity":1,"size":729,"color":"#c8c8c8","shape":"M0,-0.22 L0.22,0 L0,0.22 L-0.22,0 Z M-0.72,-0.2 L-0.52,0 L-0.72,0.2 L-0.92,0 Z M0.72,-0.2 L0.92,0 L0.72,0.2 L0.52,0 Z M0,-1 L0.5,-0.5 L0.3,-0.3 L0,-0.6 L-0.3,-0.3 L-0.5,-0.5 Z M0,1 L0.5,0.5 L0.3,0.3 L0,0.6 L-0.3,0.3 L-0.5,0.5 Z"},"encoding":{"x":{"datum":420.15,"type":"quantitative"},"y":{"field":"p","type":"quantitative"}}},
{"data":{"values":[{"p":0.06782,"s":"@ CryptoGuru12"}]},"mark":{"type":"text","font":"Open Sans","fontSize":24,"color":"#cfcfcf","align":"left","baseline":"middle"},"encoding":{"x":{"datum":426.0,"type":"quantitative"},"y":{"field":"p","type":"quantitative"},"text":{"field":"s"}}},
{"data":{"values":[{"p":0.13359}]},"mark":{"type":"rule","color":"#d8d8d8","strokeWidth":1.5},"encoding":{"x":{"datum":0,"type":"quantitative"},"x2":{"datum":484.85},"y":{"field":"p","type":"quantitative"}}}
]}
